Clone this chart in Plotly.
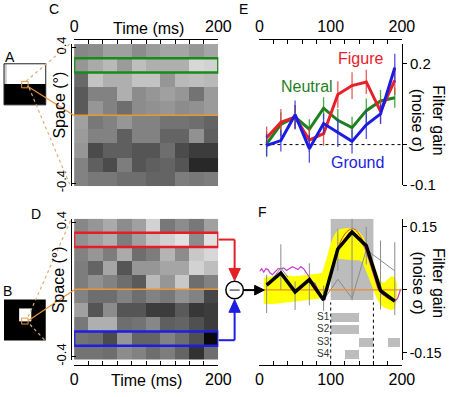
import plotly.graph_objects as go

W, H = 474, 397
def PX(x): return x / W
def PY(y): return 1 - y / H

FONT = "Liberation Sans, Arial, sans-serif"

# ---------------- data ----------------
time_centers = [10, 30, 50, 70, 90, 110, 130, 150, 170, 190]
space_centers = [-0.378, -0.294, -0.210, -0.126, -0.042, 0.042, 0.126, 0.210, 0.294, 0.378]

# panel C kernel (gray level), rows listed top (0.4) to bottom (-0.4)
c_gray = [
    [135, 140, 160, 160, 140, 155, 165, 165, 150, 165],
    [150, 170, 185, 155, 190, 175, 175, 175, 215, 210],
    [105, 195, 175, 175, 195, 195, 150, 185, 190, 185],
    [ 90, 130, 130, 175, 140, 150, 160, 150, 115, 155],
    [ 90, 150, 130, 110, 140, 145, 150, 140, 145, 155],
    [160, 120, 130, 150, 130, 130, 115, 115, 110, 100],
    [155, 130, 130,  95, 130, 130, 100, 100, 145,  95],
    [150,  75,  95,  95,  85,  85, 110,  75,  60,  60],
    [130,  95,  75, 125,  85,  95, 100,  85,  40,  40],
    [130, 120, 120, 110, 110, 100, 100, 125, 120, 125],
]
# panel D kernel (gray level), rows top to bottom
d_gray = [
    [135, 150, 170, 140, 160, 210, 120, 140, 120, 160],
    [145, 160, 175, 125, 160, 195, 210, 225, 140, 225],
    [130, 150, 125, 170, 110, 125, 180, 140, 200, 215],
    [125, 100, 165,  85, 150, 150, 165, 165, 210, 190],
    [125, 145, 130, 110,  90, 185, 150, 200, 110, 130],
    [130, 110, 110, 130, 110, 130, 120, 145, 130,  70],
    [160,  85, 140,  85,  85,  60,  60,  90,  55,  60],
    [120, 175, 175, 110, 115, 135,  95, 100,  80,  60],
    [115, 110,  75, 150, 100, 100, 130, 110,  80,  10],
    [115, 115, 110, 140, 130, 110, 125, 100,  50, 110],
]
row_edges_fig = [0.252, 0.336]     # figure row (2nd from top)
row_edges_gnd = [-0.336, -0.252]   # ground row (9th from top)

# panel E filter gains
e_figure = [0.017, 0.055, 0.068, 0.011, 0.027, 0.124, 0.146, 0.155, 0.082, 0.159]
e_neutral = [0.002, 0.050, 0.068, 0.038, 0.090, 0.060, 0.042, 0.084, 0.108, 0.116]
e_ground = [-0.002, 0.010, 0.074, -0.010, 0.052, 0.029, 0.008, 0.049, 0.076, 0.190]
e_figure_err = [0.028, 0.033, 0.030, 0.030, 0.030, 0.033, 0.033, 0.030, 0.030, 0.035]
e_neutral_err = [0.030, 0.030, 0.030, 0.025, 0.027, 0.028, 0.027, 0.030, 0.027, 0.025]
e_ground_err = [0.028, 0.027, 0.035, 0.035, 0.025, 0.035, 0.030, 0.035, 0.025, 0.035]

# panel F difference (figure - ground)
f_mean = [0.011, 0.040, -0.005, 0.024, -0.024, 0.097, 0.137, 0.105, -0.002, -0.027]
f_err_lo = [-0.055, 0.000, -0.048, -0.037, -0.050, 0.045, -0.025, 0.060, -0.047, -0.060]
f_err_hi = [0.036, 0.108, 0.020, 0.063, 0.010, 0.145, 0.169, 0.150, 0.117, 0.113]

band_t = [6, 10, 20, 30, 40, 50, 60, 70, 80, 88, 95, 100, 105, 110, 120, 130, 140,
          145, 150, 155, 160, 165, 170, 175, 180, 185, 190, 193]
band_hi = [0.028, 0.030, 0.033, 0.036, 0.034, 0.032, 0.034, 0.036, 0.038, 0.040, 0.080,
           0.110, 0.130, 0.143, 0.146, 0.146, 0.138, 0.128, 0.110, 0.090, 0.062, 0.040,
           0.020, 0.017, 0.025, 0.032, 0.030, 0.015]
band_lo = [-0.033, -0.034, -0.034, -0.033, -0.031, -0.029, -0.027, -0.024, -0.022, -0.020,
           -0.005, 0.030, 0.055, 0.074, 0.072, 0.070, 0.070, 0.065, 0.045, 0.025, 0.000,
           -0.022, -0.036, -0.042, -0.046, -0.048, -0.045, -0.020]

smooth_t = [0, 3, 6, 9, 12, 15, 18, 22, 26, 30, 34, 38, 42, 46, 50, 54, 58, 62, 66, 70,
            74, 78, 82, 86, 90, 96, 102, 108, 114, 120, 126, 130, 136, 142, 148, 154,
            160, 166, 172, 178, 184, 190, 194, 198]
smooth_v = [0.044, 0.050, 0.042, 0.050, 0.048, 0.040, 0.036, 0.043, 0.050, 0.050, 0.052,
            0.046, 0.050, 0.055, 0.052, 0.048, 0.055, 0.050, 0.040, 0.030, 0.020, 0.015,
            0.000, -0.015, -0.022, 0.010, 0.050, 0.085, 0.105, 0.120, 0.135, 0.140,
            0.130, 0.115, 0.100, 0.070, 0.035, 0.005, -0.010, -0.015, -0.022, -0.028,
            -0.020, 0.000]
fit_t = [92, 100, 108, 116, 124, 132, 140, 148, 156, 164, 172, 182, 190]
fit_v = [-0.015, 0.040, 0.090, 0.122, 0.140, 0.145, 0.132, 0.105, 0.065, 0.020, -0.008, -0.022, -0.028]

indiv_t = [90, 110, 130, 150, 190]
indiv_v = [-0.024, 0.025, -0.020, 0.095, 0.045]
indiv2_t = [20, 30, 40]
indiv2_v = [0.030, 0.052, 0.030]

sig_window = [100, 160]
sig_bottom = -0.024

s_names = ["S1", "S2", "S3", "S4"]
s_levels = [-0.066, -0.095, -0.125, -0.153]
s_bar_level = [-0.066, -0.095, -0.125, -0.125, -0.153]
s_bar_start = [100, 100, 140, 180, 120]
s_bar_end = [140, 140, 160, 198, 140]

tick20 = list(range(0, 201, 20))
lab_0_200 = ["0"] + [""] * 9 + ["200"]
lab_0_100_200 = ["0", "", "", "", "", "100", "", "", "", "", "200"]

# ---------------- figure ----------------
fig = go.Figure()
gray_scale = [[0, "black"], [1, "white"]]

fig.add_trace(go.Heatmap(x=time_centers, y=space_centers, z=c_gray[::-1],
                         colorscale=gray_scale, zmin=0, zmax=255, showscale=False,
                         xaxis="x", yaxis="y", hoverinfo="skip"))
fig.add_trace(go.Heatmap(x=time_centers, y=space_centers, z=d_gray[::-1],
                         colorscale=gray_scale, zmin=0, zmax=255, showscale=False,
                         xaxis="x2", yaxis="y2", hoverinfo="skip"))

# E
fig.add_trace(go.Scatter(x=[0, 200], y=[0, 0], mode="lines",
                         line=dict(color="black", width=1, dash="dot"),
                         xaxis="x3", yaxis="y3", hoverinfo="skip"))
for vals, err, col, ecol in [
    (e_neutral, e_neutral_err, "#1f7f1f", "rgba(40,150,40,0.85)"),
    (e_figure, e_figure_err, "#e8202a", "rgba(235,60,60,0.85)"),
    (e_ground, e_ground_err, "#1c1ce0", "rgba(50,50,225,0.85)"),
]:
    fig.add_trace(go.Scatter(x=time_centers, y=vals, mode="lines",
                             line=dict(color=col, width=3),
                             error_y=dict(type="data", array=err, visible=True,
                                          color=ecol, thickness=1.3, width=0),
                             xaxis="x3", yaxis="y3", hoverinfo="skip"))

# F
fig.add_trace(go.Scatter(x=band_t + band_t[::-1], y=band_hi + band_lo[::-1],
                         fill="toself", fillcolor="#ffff00", line=dict(width=0),
                         mode="lines", xaxis="x4", yaxis="y4", hoverinfo="skip"))
fig.add_trace(go.Bar(y=s_bar_level, x=[e - s for s, e in zip(s_bar_start, s_bar_end)],
                     base=s_bar_start, orientation="h", width=0.021,
                     marker=dict(color="#bdbdbd", line=dict(width=0)),
                     xaxis="x4", yaxis="y4", hoverinfo="skip"))
fig.add_trace(go.Scatter(x=[98] * 4, y=s_levels, text=s_names, mode="text",
                         textposition="middle left",
                         textfont=dict(size=10, color="#333333", family=FONT),
                         xaxis="x4", yaxis="y4", hoverinfo="skip"))
fig.add_trace(go.Scatter(x=indiv_t, y=indiv_v, mode="lines",
                         line=dict(color="#8a8a8a", width=1),
                         xaxis="x4", yaxis="y4", hoverinfo="skip"))
fig.add_trace(go.Scatter(x=indiv2_t, y=indiv2_v, mode="lines",
                         line=dict(color="#8a8a8a", width=1),
                         xaxis="x4", yaxis="y4", hoverinfo="skip"))
fig.add_trace(go.Scatter(x=[0, 200], y=[0, 0], mode="lines",
                         line=dict(color="#f08c28", width=1.2),
                         xaxis="x4", yaxis="y4", hoverinfo="skip"))
fig.add_trace(go.Scatter(x=smooth_t, y=smooth_v, mode="lines",
                         line=dict(color="#c83cc8", width=1.2),
                         xaxis="x4", yaxis="y4", hoverinfo="skip"))
fig.add_trace(go.Scatter(x=fit_t, y=fit_v, mode="lines", line_shape="spline",
                         line=dict(color="#e0402a", width=1),
                         xaxis="x4", yaxis="y4", hoverinfo="skip"))
fig.add_trace(go.Scatter(x=time_centers, y=f_mean, mode="lines",
                         line=dict(color="black", width=3.5),
                         error_y=dict(type="data", symmetric=False,
                                      array=[h - m for h, m in zip(f_err_hi, f_mean)],
                                      arrayminus=[m - l for l, m in zip(f_err_lo, f_mean)],
                                      color="#8c8c8c", thickness=1, width=0),
                         xaxis="x4", yaxis="y4", hoverinfo="skip"))

# ---------------- axes ----------------
common = dict(showgrid=False, zeroline=False, showline=True, linecolor="black",
              linewidth=1, tickcolor="black", ticklen=4, tickwidth=1, fixedrange=True)
xdom_heat = [PX(72.7), PX(222.3)]
xdom_line = [PX(265), PX(412.7)]
fig.update_layout(
    xaxis=dict(domain=xdom_heat, range=[0, 200], anchor="free", position=PY(33),
               side="top", tickvals=tick20, ticktext=lab_0_200, ticks="inside",
               tickfont=dict(size=16), **common),
    yaxis=dict(domain=[PY(186.5), PY(38.5)], range=[-0.42, 0.42], anchor="free",
               position=PX(70), side="left", tickvals=[-0.4, 0.4],
               ticktext=["-0.4", "0.4"], tickangle=-90, ticks="inside",
               tickfont=dict(size=13), **common),
    xaxis2=dict(domain=xdom_heat, range=[0, 200], anchor="free", position=PY(371.7),
                side="bottom", tickvals=tick20, ticktext=lab_0_200, ticks="inside",
                tickfont=dict(size=16), **common),
    yaxis2=dict(domain=[PY(366.7), PY(220)], range=[-0.42, 0.42], anchor="free",
                position=PX(70), side="left", tickvals=[-0.4, 0.4],
                ticktext=["-0.4", "0.4"], tickangle=-90, ticks="inside",
                tickfont=dict(size=13), **common),
    xaxis3=dict(domain=xdom_line, range=[0, 200], anchor="free", position=PY(33),
                side="top", tickvals=tick20, ticktext=lab_0_100_200, ticks="inside",
                tickfont=dict(size=16), **common),
    yaxis3=dict(domain=[PY(185), PY(38)], range=[-0.1, 0.25], anchor="free",
                position=PX(412.7), side="right", tickvals=[-0.1, 0, 0.2],
                ticktext=["-0.1", "", "0.2"], ticks="outside",
                tickfont=dict(size=15), **common),
    xaxis4=dict(domain=xdom_line, range=[0, 200], anchor="free", position=PY(371.7),
                side="bottom", tickvals=tick20, ticktext=lab_0_100_200, ticks="inside",
                tickfont=dict(size=16), **common),
    yaxis4=dict(domain=[PY(366.5), PY(220)], range=[-0.166, 0.169], anchor="free",
                position=PX(412.7), side="right", tickvals=[-0.15, 0, 0.15],
                ticktext=["-0.15", "", "0.15"], ticks="outside",
                tickfont=dict(size=14), **common),
)

# ---------------- shapes ----------------
shapes = []
orange = "#e8963c"
tan = "#dcae78"
# heatmap boxes and centre lines
shapes.append(dict(type="rect", xref="x", yref="y", x0=0, x1=200, y0=row_edges_fig[0],
                   y1=row_edges_fig[1], line=dict(color="#1a8a1a", width=2.5), layer="above"))
shapes.append(dict(type="rect", xref="x2", yref="y2", x0=0, x1=200, y0=row_edges_fig[0],
                   y1=row_edges_fig[1], line=dict(color="#e41e26", width=2.5), layer="above"))
shapes.append(dict(type="rect", xref="x2", yref="y2", x0=0, x1=200, y0=row_edges_gnd[0],
                   y1=row_edges_gnd[1], line=dict(color="#1e1ee0", width=2.5), layer="above"))
for xr, yr in [("x", "y"), ("x2", "y2")]:
    shapes.append(dict(type="line", xref=xr, yref=yr, x0=0, x1=200, y0=0, y1=0,
                       line=dict(color=orange, width=1.5), layer="above"))
# F significance window
shapes.append(dict(type="rect", xref="x4", yref="y4", x0=sig_window[0], x1=sig_window[1],
                   y0=sig_bottom, y1=0.169, fillcolor="#bcbcbc", line=dict(width=0),
                   layer="below"))
for xv in sig_window:
    shapes.append(dict(type="line", xref="x4", yref="paper", x0=xv, x1=xv,
                       y0=PY(371.7), y1=PY(307), line=dict(color="black", width=1, dash="dot")))

def prect(x0, y0, x1, y1, **kw):
    return dict(type="rect", xref="paper", yref="paper", x0=PX(x0), x1=PX(x1),
                y0=PY(y1), y1=PY(y0), **kw)

def pline(x0, y0, x1, y1, color, width=1, dash=None):
    ln = dict(color=color, width=width)
    if dash:
        ln["dash"] = dash
    return dict(type="line", xref="paper", yref="paper", x0=PX(x0), y0=PY(y0),
                x1=PX(x1), y1=PY(y1), line=ln)

def ppath(pts, fill):
    d = "M " + " L ".join(f"{PX(x):.5f},{PY(y):.5f}" for x, y in pts) + " Z"
    return dict(type="path", xref="paper", yref="paper", path=d, fillcolor=fill,
                line=dict(color=fill, width=1))

# panel A stimulus
shapes.append(prect(0, 59, 43.3, 80, fillcolor="white", line=dict(width=0)))
shapes.append(prect(0, 59, 3, 80, fillcolor="#d0d0d0", line=dict(width=0)))
shapes.append(prect(0, 80, 43.3, 101.7, fillcolor="black", line=dict(width=0)))
shapes.append(prect(0, 59, 43.3, 101.7, fillcolor="rgba(0,0,0,0)", line=dict(color="#222", width=1)))
shapes.append(prect(18.3, 77.3, 25, 84, fillcolor="rgba(0,0,0,0)", line=dict(color=orange, width=1)))
shapes.append(pline(24, 82, 72.7, 112.7, orange, 1.2))
shapes.append(pline(23, 77, 70, 37, tan, 1.2, "dot"))
shapes.append(pline(26, 84, 68, 184, tan, 1.2, "dot"))
# panel B stimulus
shapes.append(prect(0, 304, 43.3, 346.7, fillcolor="black", line=dict(width=0)))
shapes.append(prect(15.7, 313.3, 28.3, 326.7, fillcolor="white", line=dict(width=0)))
shapes.append(prect(18.3, 323.3, 25, 329.5, fillcolor="rgba(0,0,0,0)", line=dict(color=orange, width=1)))
shapes.append(pline(25, 326, 72.7, 294, orange, 1.2))
shapes.append(pline(25, 322, 69, 222, tan, 1.2, "dot"))
shapes.append(pline(27, 330, 43, 347, tan, 1.2, "dot"))
# subtraction diagram
shapes.append(pline(222.7, 241.7, 239.2, 241.7, "#e41e26", 2))
shapes.append(pline(239.2, 241.7, 239.2, 273, "#e41e26", 2))
shapes.append(ppath([(233.3, 271.7), (245.1, 271.7), (239.2, 284.3)], "#e41e26"))
shapes.append(pline(222.7, 346.3, 239.2, 346.3, "#1e1ee0", 2))
shapes.append(pline(239.2, 346.3, 239.2, 316, "#1e1ee0", 2))
shapes.append(ppath([(233.3, 317.3), (245.1, 317.3), (239.2, 304.2)], "#1e1ee0"))
shapes.append(dict(type="circle", xref="paper", yref="paper", x0=PX(230.1), x1=PX(248.3),
                   y0=PY(303.2), y1=PY(285), line=dict(color="black", width=1.5),
                   fillcolor="white"))
shapes.append(pline(234, 294.2, 244.4, 294.2, "#666666", 1.5))
shapes.append(pline(248.3, 294.2, 261, 294.2, "black", 2))
shapes.append(ppath([(260, 289.3), (260, 299.3), (270, 294.2)], "black"))
fig.update_layout(shapes=shapes)

# ---------------- annotations ----------------
ann = []
def txt(x, y, s, size=16, color="black", angle=0, xanchor="center", yanchor="middle"):
    ann.append(dict(x=PX(x), y=PY(y), xref="paper", yref="paper", text=s, showarrow=False,
                    font=dict(size=size, color=color, family=FONT), textangle=angle,
                    xanchor=xanchor, yanchor=yanchor))

txt(150, 22, "Time (ms)")
txt(148, 388, "Time (ms)")
txt(57.5, 102, "Space (°)", angle=-90)
txt(56, 283, "Space (°)", angle=-90)
txt(440, 118, "Filter gain<br>(noise σ)", angle=90)
txt(440, 287, "Filter gain<br>(noise σ)", angle=90)
txt(369.5, 54, "Figure", color="#e8202a")
txt(314.5, 83, "Neutral", color="#1f7f1f")
txt(367, 161.5, "Ground", color="#1c1ce0")
txt(6, 52, "A", size=14)
txt(4, 295, "B", size=14)
txt(52, 2, "C", size=14)
txt(33, 215, "D", size=14)
txt(248, 2, "E", size=14)
txt(268, 213, "F", size=14)
fig.update_layout(annotations=ann)

fig.update_layout(width=W, height=H, margin=dict(l=0, r=0, t=0, b=0), autosize=False,
                  paper_bgcolor="white", plot_bgcolor="rgba(0,0,0,0)", showlegend=False,
                  font=dict(family=FONT, color="black"), bargap=0, hovermode=False)

fig.write_html("out.html", config={"displayModeBar": False, "staticPlot": True},
               post_script="document.body.style.margin='0px';document.body.style.padding='0px';"
                           "document.body.style.overflow='hidden';")
